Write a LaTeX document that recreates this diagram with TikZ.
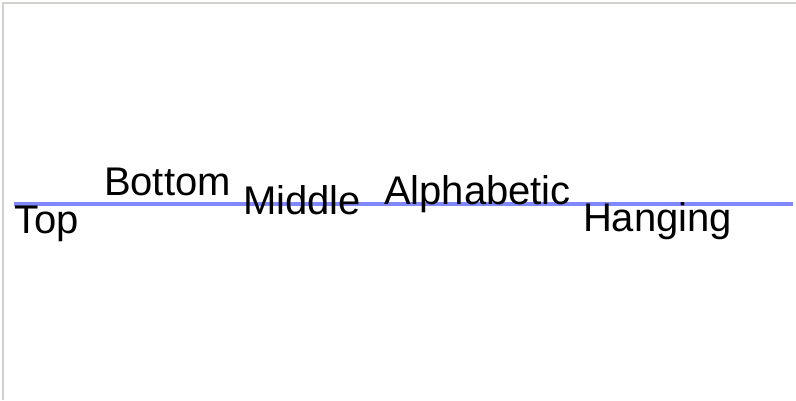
\documentclass[tikz,border=0pt]{standalone}
\usepackage{fontspec}
\setmainfont{Liberation Sans}
\definecolor{framegray}{RGB}{208,208,204}
\definecolor{blueline}{RGB}{128,136,252}
\begin{document}
\begin{tikzpicture}[x=1pt,y=-1pt,
  lbl/.style={anchor=base west,inner sep=0pt,outer sep=0pt,font=\fontsize{40}{42}\selectfont}]
\useasboundingbox (0,0) rectangle (796,400);
\draw[framegray,line width=2pt] (2.5,400) -- (2.5,2.5) -- (796,2.5);
\coordinate (ls) at (14,204);
\coordinate (le) at (793,204);
\draw[blueline,line width=3.5pt] (ls) -- (le);
\node[lbl] (top) at (14,233) {Top};
\node[lbl] (bottom) at (104,195) {Bottom};
\node[lbl] (middle) at (243,214) {Middle};
\node[lbl] (alpha) at (384,204) {Alphabetic};
\node[lbl] (hang) at (583,231) {Hanging};
\end{tikzpicture}
\end{document}
